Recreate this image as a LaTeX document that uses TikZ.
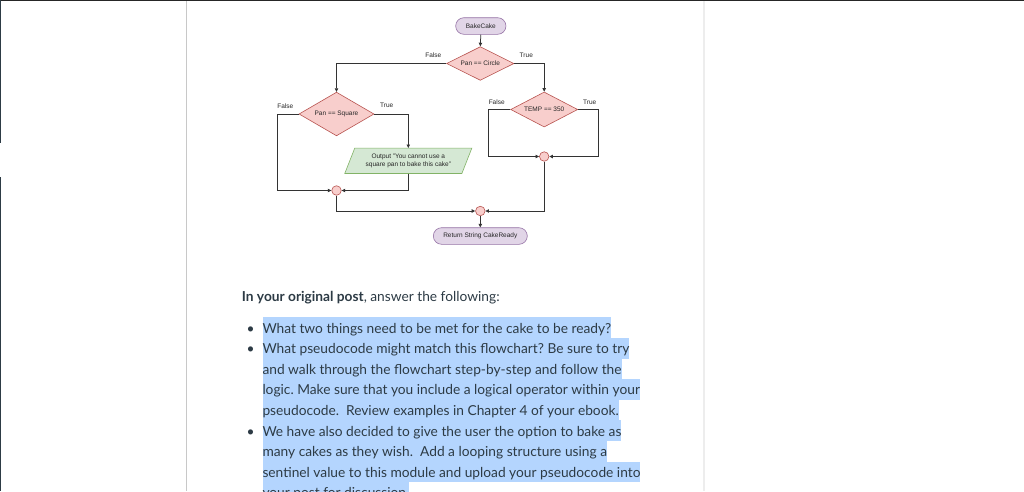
\documentclass[tikz,border=0pt]{standalone}
\usepackage{fontspec}
\setmainfont{Liberation Sans}
\newfontfamily\lato{Lato}
\usetikzlibrary{shapes.geometric,arrows.meta}
\definecolor{purfill}{HTML}{E1D5E7}
\definecolor{purdraw}{HTML}{9673A6}
\definecolor{redfill}{HTML}{F8CECC}
\definecolor{reddraw}{HTML}{B85450}
\definecolor{grnfill}{HTML}{D5E8D4}
\definecolor{grndraw}{HTML}{82B366}
\definecolor{linec}{HTML}{333333}
\definecolor{hl}{HTML}{B4D5FE}
\definecolor{bodytxt}{HTML}{2D3B45}
\definecolor{sidebar}{HTML}{2D3B45}
\definecolor{topbar}{HTML}{262626}
\definecolor{greyA}{HTML}{C8C8C8}
\definecolor{greyB}{HTML}{EDEDED}
\pgfdeclarelayer{bg}
\pgfsetlayers{bg,main}
\tikzset{
  fc/.style={font=\fontsize{6.5}{8}\selectfont, text=black!85, inner sep=0pt},
  term/.style={fc, draw=purdraw, fill=purfill, line width=0.6pt, rectangle},
  decide/.style={fc, draw=reddraw, fill=redfill, line width=0.6pt, diamond, aspect=2},
  merge/.style={circle, draw=reddraw, fill=redfill, line width=0.6pt, minimum size=9.5pt, inner sep=0pt},
  lbl/.style={fc},
  conn/.style={draw=linec, line width=0.75pt, -{Triangle[length=3.6pt,width=3.4pt]}},
  body/.style={font=\lato\fontsize{13.75}{20.6}\selectfont\frenchspacing, text=bodytxt, inner sep=0pt, anchor=base west},
  hlline/.style={body, fill=hl, text height=15.65pt, text depth=4.95pt},
  bul/.style={font=\lato\fontsize{13.75}{20.6}\selectfont, text=bodytxt, inner sep=0pt, anchor=base},
}
\begin{document}
\begin{tikzpicture}[x=1pt,y=-1pt]
\useasboundingbox (0,0) rectangle (1024,491);
\clip (0,0) rectangle (1024,491);
\begin{pgfonlayer}{bg}
\fill[white] (0,0) rectangle (1024,491);
% page frame
\fill[topbar] (0,0) rectangle (1024,1.3);
\fill[sidebar] (0,0) rectangle (1.4,143);
\fill[sidebar] (0,177) rectangle (1.4,491);
\fill[greyA] (185.6,1.3) rectangle (186.8,491);
\fill[greyB] (703,1.3) rectangle (705,491);
\end{pgfonlayer}

% flowchart nodes
\node[term, minimum width=50.3pt, minimum height=16.6pt, rounded corners=8.3pt] (start) at (480.8,26) {BakeCake};
\node[decide, minimum width=67.3pt, minimum height=33.7pt] (circ) at (480.3,63.5) {Pan == Circle};
\node[decide, minimum width=75pt, minimum height=43.7pt] (sq) at (336.5,114) {Pan == Square};
\node[decide, minimum width=67pt, minimum height=35pt] (temp) at (544.2,109.5) {TEMP == 350};
\node[fc, align=center, minimum width=116.7pt, minimum height=25pt] (out) at (408.3,160.8)
  {Output "You cannot use a\\[-0.6pt]square pan to bake this cake"};
\begin{pgfonlayer}{bg}
\draw[draw=grndraw, fill=grnfill, line width=0.6pt]
  ([xshift=-5pt]out.south west) -- ([xshift=-5pt]out.south east)
  -- ([xshift=5pt]out.north east) -- ([xshift=5pt]out.north west) -- cycle;
\end{pgfonlayer}
\node[merge] (m1) at (336.5,190.5) {};
\node[merge] (m2) at (544.2,156.5) {};
\node[merge] (m3) at (480.3,211) {};
\node[term, minimum width=94pt, minimum height=16.6pt, rounded corners=8.3pt] (ret) at (480.3,236) {Return String CakeReady};

% labels
\node[lbl] (f1) at (433.3,55) {False};
\node[lbl] (t1) at (526.3,55) {True};
\node[lbl] (f2) at (285.3,105.7) {False};
\node[lbl] (t2) at (386.7,105.7) {True};
\node[lbl] (f3) at (496.7,102.3) {False};
\node[lbl] (t3) at (589.7,102.3) {True};

% corner points
\coordinate (k1) at (277.3,190.5);
\coordinate (k2) at (488.3,156.5);
\coordinate (k3) at (598.3,156.5);

% connectors
\draw[conn] (start.south) -- (circ.north);
\draw[conn] (circ.west) -| (sq.north);
\draw[conn] (circ.east) -| (temp.north);
\draw[conn] (sq.west) -| (k1) -- (m1.west);
\draw[conn] (sq.east) -| (out.north);
\draw[conn] (out.south) |- (m1.east);
\draw[conn] (m1.south) |- (m3.west);
\draw[conn] (temp.west) -| (k2) -- (m2.west);
\draw[conn] (temp.east) -| (k3) -- (m2.east);
\draw[conn] (m2.south) |- (m3.east);
\draw[conn] (m3.south) -- (ret.north);

% text body
\node[body] (title) at (241.7,301.7) {\textbf{In your original post}, answer the following:};
\node[bul] (b1) at (250.7,333) {\textbullet};
\node[bul] (b2) at (250.7,353.6) {\textbullet};
\node[bul] (b3) at (250.7,436.0) {\textbullet};
\node[hlline] (l1) at (262.3,333) {What two things need to be met for the cake to be ready?\ };
\node[hlline] (l2) at (262.3,353.6) {What pseudocode might match this flowchart? Be sure to try\ };
\node[hlline] (l3) at (262.3,374.2) {and walk through the flowchart step-by-step and follow the\ };
\node[hlline] (l4) at (262.3,394.8) {logic. Make sure that you include a logical operator within your\ };
\node[hlline] (l5) at (262.3,415.4) {pseudocode.~ Review examples in Chapter 4 of your ebook.\ };
\node[hlline] (l6) at (262.3,436.0) {We have also decided to give the user the option to bake as\ };
\node[hlline] (l7) at (262.3,456.6) {many cakes as they wish.~ Add a looping structure using a\ };
\node[hlline] (l8) at (262.3,477.2) {sentinel value to this module and upload your pseudocode into\ };
\node[hlline] (l9) at (262.3,497.8) {your post for discussion.};
\end{tikzpicture}
\end{document}
